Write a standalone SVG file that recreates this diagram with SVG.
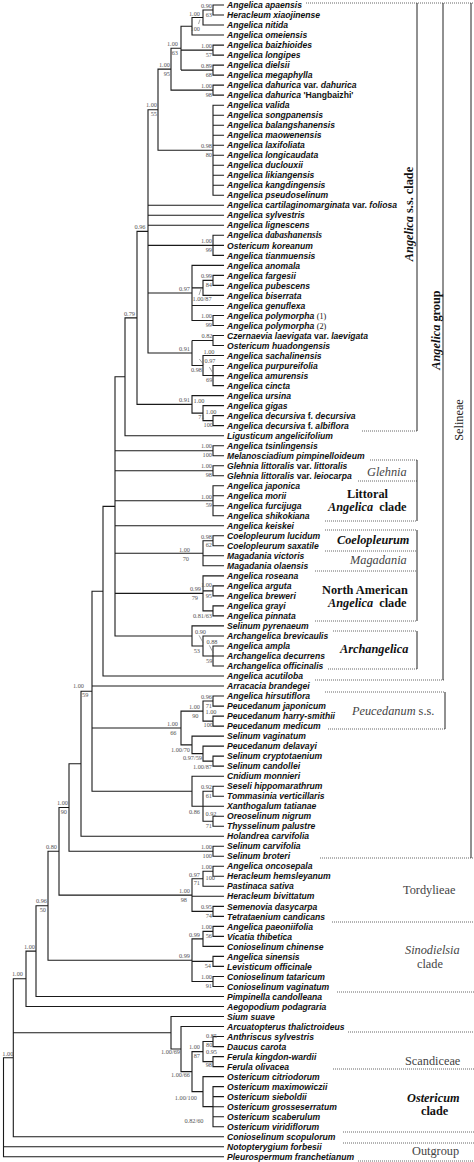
<svg xmlns="http://www.w3.org/2000/svg" width="474" height="1162" viewBox="0 0 474 1162">
<style>
.t{font-family:"Liberation Sans",Arial,sans-serif;font-style:italic;font-weight:bold;font-size:8.6px;fill:#111}
.n{font-style:normal}
.sv{font-family:"Liberation Serif","Times New Roman",serif;font-style:normal;font-weight:normal}
.svi{font-family:"Liberation Serif","Times New Roman",serif;font-style:italic;font-weight:bold}
.s{font-family:"Liberation Serif","Times New Roman",serif;font-size:6.3px;fill:#555}
.e{text-anchor:end}
.br{fill:none;stroke:#1a1a1a;stroke-width:1.1}
.ld{fill:none;stroke:#666;stroke-width:0.6}
.dot{fill:none;stroke:#555;stroke-width:0.9;stroke-dasharray:1 1}
.bar{fill:none;stroke:#222;stroke-width:1}
.cl{font-family:"Liberation Serif","Times New Roman",serif;font-size:12.3px}
.b{font-weight:bold;fill:#111}
.i{font-style:italic}
.g{fill:#444}
</style>
<rect width="474" height="1162" fill="#fff"/>
<g id="connectors" class="br">
<path d="M224 5H213V15H224 M213 10H203V25H224 M203 17.5H192V35H224 M192 26.25H181V70.1 M224 45.1H213V55.1H224 M181 50.1H213 M224 65.1H213V75.1H224 M181 70.1H213 M181 48.2H171V90.1H213 M224 85.1H213V95.1H224 M171 69.15H158V150.25H213"/>
<path d="M224 105.2H213V195.3H224 M213 115.2H224 M213 125.2H224 M213 135.2H224 M213 145.2H224 M213 155.2H224 M213 165.2H224 M213 175.3H224 M213 185.3H224"/>
<path d="M158 109.7H148V353H192 M148 205.3H224 M148 215.3H224 M148 225.3H224 M148 245.35H213 M148 292.95H192 M224 235.3H213V255.4H224 M213 245.4H224 M224 265.4H192V320.5H213 M192 287.9H203 M192 305.5H224 M224 275.4H213V285.4H224 M213 280.4H203V295.4H224 M224 315.5H213V325.5H224 M192 340.5V365.5H203 M192 340.5H213 M224 335.5H213V345.5H224 M224 355.5H203V375.55H213 M224 365.5H213V385.6H224 M213 375.6H224"/>
<path d="M148 231.35H137V404.35H192 M224 395.6H192V413.1H203 M224 405.6H203V420.6H213 M224 415.6H213V425.6H224 M137 317.85H125V435.7H224"/>
<path d="M125 376.8H115V635.95H192 M115 450.7H213 M115 470.7H213 M115 500.75H213 M115 525.8H224 M115 553.3H203 M115 593.4H203 M224 445.7H213V455.7H224 M224 465.7H213V475.7H224 M224 485.7H213V515.8H224 M213 495.7H224 M213 505.8H224 M224 535.8H213V545.8H224 M213 540.8H203V565.8H224 M203 555.8H224 M224 575.9H203V610.9H213 M203 590.9H213 M224 585.9H213V595.9H224 M224 605.9H213V615.9H224 M224 625.9H192V646H203 M224 636H203V656H213 M224 646H213V666H224 M213 656H224"/>
<path d="M115 506.4H103V676H224 M103 591.2H92V791.2H192 M92 686H224 M92 727.97H181 M203 711.08H181V744.85H192 M213 701.05H203V721.1H213 M224 696H213V706.1H224 M224 716.1H213V726.1H224 M224 736.1H192V753.6H203 M224 746.1H203V761.1H213 M224 756.1H213V766.1H224 M224 776.2H192V806.2H203 M213 791.2H203V821.2H213 M203 806.2H224 M224 786.2H213V796.2H224 M224 816.2H213V826.2H224"/>
<path d="M92 691.2H81V836.2H224 M81 763.7H69V851.3H213 M224 846.3H213V856.3H224 M69 807.5H59V895.1H192 M203 878.8H192V911.4H213 M192 896.3H224 M213 871.3H203V886.3H224 M224 866.3H213V876.3H224 M224 906.4H213V916.4H224"/>
<path d="M59 851.3H48V960.2H192 M203 938.9H192V981.5H213 M192 961.4H213 M213 931.4H203V946.4H224 M224 926.4H213V936.4H224 M224 956.4H213V966.4H224 M224 976.5H213V986.5H224 M48 905.75H36V996.5H224 M36 951.1H26V1006.5H224"/>
<path d="M26 978.8H13.3V1136.7H224 M13.3 1032.8H171 M224 1016.5H171V1049.05H181 M224 1026.5H181V1071.6H192 M203 1051.6H192V1091.6H203 M213 1041.55H203V1061.6H213 M224 1036.5H213V1046.6H224 M224 1056.6H213V1066.6H224 M224 1076.6H203V1106.65H213 M224 1086.6H213V1126.7H224 M213 1096.6H224 M213 1106.7H224 M213 1116.7H224 M13.3 1057.75H3.5V1156.7H224 M3.5 1146.7H224"/>
</g>
<g id="leaders" class="ld">
<path d="M198.5 24L200 19.5 M199 295L201 289 M199.3 359L204 365 M209.3 367L213.3 373.7 M199 635.3L203.3 643 M209.3 645.3L213.3 653"/>
</g>
<g id="support" class="s">
<text x="212" y="7.7" class="e">0.90</text><text x="212" y="16.6" class="e">63</text>
<text x="200" y="15.8" class="e">1.00</text><text x="200" y="30.8" class="e">100</text>
<text x="178" y="45.9" class="e">1.00</text><text x="178" y="54.8" class="e">63</text>
<text x="212" y="47.8" class="e">1.00</text><text x="212" y="56.7" class="e">57</text>
<text x="212" y="67.8" class="e">0.89</text><text x="212" y="76.7" class="e">68</text>
<text x="170" y="66.9" class="e">1.00</text><text x="170" y="75.8" class="e">95</text>
<text x="212" y="87.8" class="e">1.00</text><text x="212" y="96.7" class="e">98</text>
<text x="157" y="107.4" class="e">1.00</text><text x="157" y="116.3" class="e">55</text>
<text x="212" y="148" class="e">0.98</text><text x="212" y="156.9" class="e">80</text>
<text x="145.5" y="229" class="e">0.96</text>
<text x="212" y="243" class="e">1.00</text><text x="212" y="252" class="e">99</text>
<text x="212" y="278.1" class="e">0.99</text><text x="212" y="287" class="e">84</text>
<text x="190" y="290.6" class="e">0.97</text>
<text x="192.5" y="300.8">1.00/87</text>
<text x="212" y="318.2" class="e">1.00</text><text x="212" y="327.1" class="e">99</text>
<text x="212.5" y="338.2" class="e">0.82</text>
<text x="190" y="350.7" class="e">0.91</text>
<text x="203.5" y="354.4">1.00</text>
<text x="204.5" y="363.4">0.97</text>
<text x="202" y="372.4" class="e">0.98</text>
<text x="206" y="381.6">69</text>
<text x="190" y="402" class="e">0.91</text>
<text x="193.5" y="403.3">1.00</text><text x="204.5" y="419" class="e">71</text>
<text x="205.5" y="414">1.00</text><text x="213" y="427" class="e">100</text>
<text x="135" y="316" class="e">0.79</text>
<text x="212" y="448.4" class="e">1.00</text><text x="212" y="457.3" class="e">100</text>
<text x="212" y="468.4" class="e">1.00</text><text x="212" y="477.3" class="e">98</text>
<text x="212" y="498.5" class="e">1.00</text><text x="212" y="507.4" class="e">59</text>
<text x="212" y="538.5" class="e">0.98</text><text x="212" y="547.4" class="e">62</text>
<text x="190" y="551.5" class="e">1.00</text><text x="189" y="561" class="e">70</text>
<text x="212" y="586.5" class="e">1.00</text><text x="212" y="597.5" class="e">95</text>
<text x="201" y="591.1" class="e">0.99</text><text x="198" y="600" class="e">79</text>
<text x="212" y="617.5" class="e">0.81/63</text>
<text x="195" y="634">0.90</text><text x="200" y="653.3" class="e">53</text>
<text x="206.5" y="643.5">0.88</text><text x="206" y="663">59</text>
<text x="84" y="688" class="e">1.00</text><text x="82" y="697.2">59</text>
<text x="212" y="698.7" class="e">0.96</text><text x="212" y="707.6" class="e">71</text>
<text x="205.5" y="713.8">1.00</text><text x="213" y="727.3" class="e">100</text>
<text x="200" y="708.8" class="e">1.00</text><text x="198.5" y="717.7" class="e">90</text>
<text x="178" y="725.7" class="e">1.00</text><text x="176.5" y="734.6" class="e">66</text>
<text x="190" y="751.5" class="e">1.00/70</text>
<text x="202" y="759.8" class="e">0.97/59</text>
<text x="212" y="768.7" class="e">1.00/87</text>
<text x="212" y="788.9" class="e">0.92</text><text x="212" y="797.8" class="e">61</text>
<text x="200" y="813.5" class="e">0.86</text>
<text x="205.5" y="815.5">0.92</text><text x="212" y="828" class="e">71</text>
<text x="68" y="805.2" class="e">1.00</text><text x="67" y="814.1" class="e">90</text>
<text x="212" y="849" class="e">1.00</text><text x="212" y="857.9" class="e">100</text>
<text x="57" y="849" class="e">0.80</text>
<text x="212" y="869" class="e">1.00</text><text x="205.5" y="880.2">100</text>
<text x="200" y="876.5" class="e">0.97</text><text x="200" y="885" class="e">71</text>
<text x="190" y="892.8" class="e">1.00</text><text x="187" y="901.7" class="e">98</text>
<text x="212" y="909.1" class="e">0.95</text><text x="212" y="918" class="e">74</text>
<text x="47" y="903.4" class="e">0.96</text><text x="46" y="912.3" class="e">50</text>
<text x="212" y="928.8" class="e">1.00</text><text x="212" y="938" class="e">56</text>
<text x="200" y="936.6" class="e">0.99</text>
<text x="190" y="957.9" class="e">0.99</text>
<text x="211" y="968" class="e">54</text>
<text x="212" y="979.2" class="e">1.00</text><text x="212" y="988.1" class="e">91</text>
<text x="35" y="948.8" class="e">1.00</text>
<text x="23" y="976.3" class="e">1.00</text>
<text x="13.3" y="1055.5" class="e">1.00</text>
<text x="206" y="1037.7">0.85</text><text x="206" y="1046.5">80</text>
<text x="206" y="1053.8">0.95</text><text x="212" y="1066.7" class="e">98</text>
<text x="200" y="1049.3" class="e">1.00</text><text x="200" y="1058.2" class="e">87</text>
<text x="180" y="1053.7" class="e">1.00/69</text>
<text x="190" y="1076.6" class="e">1.00/66</text>
<text x="197" y="1099.5" class="e">1.00/100</text>
<text x="203.5" y="1122.5" class="e">0.82/60</text>
</g>
<g id="leaf-1"><text class="t" x="227" y="8.1">Angelica apaensis</text></g>
<g id="leaf-2"><text class="t" x="227" y="18.1">Heracleum xiaojinense</text></g>
<g id="leaf-3"><text class="t" x="227" y="28.1">Angelica nitida</text></g>
<g id="leaf-4"><text class="t" x="227" y="38.1">Angelica omeiensis</text></g>
<g id="leaf-5"><text class="t" x="227" y="48.2">Angelica baizhioides</text></g>
<g id="leaf-6"><text class="t" x="227" y="58.2">Angelica longipes</text></g>
<g id="leaf-7"><text class="t" x="227" y="68.2">Angelica dielsii</text></g>
<g id="leaf-8"><text class="t" x="227" y="78.2">Angelica megaphylla</text></g>
<g id="leaf-9"><text class="t" x="227" y="88.2">Angelica dahurica <tspan class="n">var.</tspan> dahurica</text></g>
<g id="leaf-10"><text class="t" x="227" y="98.2">Angelica dahurica <tspan class="n">'Hangbaizhi'</tspan></text></g>
<g id="leaf-11"><text class="t" x="227" y="108.3">Angelica valida</text></g>
<g id="leaf-12"><text class="t" x="227" y="118.3">Angelica songpanensis</text></g>
<g id="leaf-13"><text class="t" x="227" y="128.3">Angelica balangshanensis</text></g>
<g id="leaf-14"><text class="t" x="227" y="138.3">Angelica maowenensis</text></g>
<g id="leaf-15"><text class="t" x="227" y="148.3">Angelica laxifoliata</text></g>
<g id="leaf-16"><text class="t" x="227" y="158.3">Angelica longicaudata</text></g>
<g id="leaf-17"><text class="t" x="227" y="168.3">Angelica duclouxii</text></g>
<g id="leaf-18"><text class="t" x="227" y="178.4">Angelica likiangensis</text></g>
<g id="leaf-19"><text class="t" x="227" y="188.4">Angelica kangdingensis</text></g>
<g id="leaf-20"><text class="t" x="227" y="198.4">Angelica pseudoselinum</text></g>
<g id="leaf-21"><text class="t" x="227" y="208.4">Angelica cartilaginomarginata <tspan class="n">var.</tspan> foliosa</text></g>
<g id="leaf-22"><text class="t" x="227" y="218.4">Angelica sylvestris</text></g>
<g id="leaf-23"><text class="t" x="227" y="228.4">Angelica lignescens</text></g>
<g id="leaf-24"><text class="t" x="227" y="238.4">Angelica <tspan class="svi" font-size="9.4">dabashanensis</tspan></text></g>
<g id="leaf-25"><text class="t" x="227" y="248.5">Ostericum koreanum</text></g>
<g id="leaf-26"><text class="t" x="227" y="258.5">Angelica tianmuensis</text></g>
<g id="leaf-27"><text class="t" x="227" y="268.5">Angelica anomala</text></g>
<g id="leaf-28"><text class="t" x="227" y="278.5">Angelica fargesii</text></g>
<g id="leaf-29"><text class="t" x="227" y="288.5">Angelica pubescens</text></g>
<g id="leaf-30"><text class="t" x="227" y="298.5">Angelica biserrata</text></g>
<g id="leaf-31"><text class="t" x="227" y="308.6">Angelica genuflexa</text></g>
<g id="leaf-32"><text class="t" x="227" y="318.6">Angelica polymorpha <tspan class="sv" font-size="8.2">(1)</tspan></text></g>
<g id="leaf-33"><text class="t" x="227" y="328.6">Angelica polymorpha <tspan class="sv" font-size="8.2">(2)</tspan></text></g>
<g id="leaf-34"><text class="t" x="227" y="338.6">Czernaevia laevigata <tspan class="n">var.</tspan> laevigata</text></g>
<g id="leaf-35"><text class="t" x="227" y="348.6">Ostericum huadongensis</text></g>
<g id="leaf-36"><text class="t" x="227" y="358.6">Angelica sachalinensis</text></g>
<g id="leaf-37"><text class="t" x="227" y="368.6">Angelica purpureifolia</text></g>
<g id="leaf-38"><text class="t" x="227" y="378.7">Angelica amurensis</text></g>
<g id="leaf-39"><text class="t" x="227" y="388.7">Angelica cincta</text></g>
<g id="leaf-40"><text class="t" x="227" y="398.7">Angelica ursina</text></g>
<g id="leaf-41"><text class="t" x="227" y="408.7">Angelica gigas</text></g>
<g id="leaf-42"><text class="t" x="227" y="418.7">Angelica decursiva <tspan class="n">f.</tspan> decursiva</text></g>
<g id="leaf-43"><text class="t" x="227" y="428.7">Angelica decursiva <tspan class="n">f.</tspan> albiflora</text></g>
<g id="leaf-44"><text class="t" x="227" y="438.8">Ligusticum angelicifolium</text></g>
<g id="leaf-45"><text class="t" x="227" y="448.8">Angelica tsinlingensis</text></g>
<g id="leaf-46"><text class="t" x="227" y="458.8">Melanosciadium pimpinelloideum</text></g>
<g id="leaf-47"><text class="t" x="227" y="468.8">Glehnia littoralis <tspan class="n">var.</tspan> littoralis</text></g>
<g id="leaf-48"><text class="t" x="227" y="478.8">Glehnia littoralis <tspan class="n">var.</tspan> leiocarpa</text></g>
<g id="leaf-49"><text class="t" x="227" y="488.8">Angelica japonica</text></g>
<g id="leaf-50"><text class="t" x="227" y="498.8">Angelica morii</text></g>
<g id="leaf-51"><text class="t" x="227" y="508.9">Angelica furcijuga</text></g>
<g id="leaf-52"><text class="t" x="227" y="518.9">Angelica shikokiana</text></g>
<g id="leaf-53"><text class="t" x="227" y="528.9">Angelica keiskei</text></g>
<g id="leaf-54"><text class="t" x="227" y="538.9">Coelopleurum lucidum</text></g>
<g id="leaf-55"><text class="t" x="227" y="548.9">Coelopleurum saxatile</text></g>
<g id="leaf-56"><text class="t" x="227" y="558.9">Magadania victoris</text></g>
<g id="leaf-57"><text class="t" x="227" y="568.9">Magadania olaensis</text></g>
<g id="leaf-58"><text class="t" x="227" y="579">Angelica roseana</text></g>
<g id="leaf-59"><text class="t" x="227" y="589">Angelica arguta</text></g>
<g id="leaf-60"><text class="t" x="227" y="599">Angelica breweri</text></g>
<g id="leaf-61"><text class="t" x="227" y="609">Angelica grayi</text></g>
<g id="leaf-62"><text class="t" x="227" y="619">Angelica pinnata</text></g>
<g id="leaf-63"><text class="t" x="227" y="629">Selinum pyrenaeum</text></g>
<g id="leaf-64"><text class="t" x="227" y="639.1">Archangelica brevicaulis</text></g>
<g id="leaf-65"><text class="t" x="227" y="649.1">Angelica ampla</text></g>
<g id="leaf-66"><text class="t" x="227" y="659.1">Archangelica decurrens</text></g>
<g id="leaf-67"><text class="t" x="227" y="669.1">Archangelica officinalis</text></g>
<g id="leaf-68"><text class="t" x="227" y="679.1">Angelica acutiloba</text></g>
<g id="leaf-69"><text class="t" x="227" y="689.1">Arracacia brandegei</text></g>
<g id="leaf-70"><text class="t" x="227" y="699.1">Angelica hirsutiflora</text></g>
<g id="leaf-71"><text class="t" x="227" y="709.2">Peucedanum japonicum</text></g>
<g id="leaf-72"><text class="t" x="227" y="719.2">Peucedanum harry-smithii</text></g>
<g id="leaf-73"><text class="t" x="227" y="729.2">Peucedanum medicum</text></g>
<g id="leaf-74"><text class="t" x="227" y="739.2">Selinum vaginatum</text></g>
<g id="leaf-75"><text class="t" x="227" y="749.2">Peucedanum delavayi</text></g>
<g id="leaf-76"><text class="t" x="227" y="759.2">Selinum cryptotaenium</text></g>
<g id="leaf-77"><text class="t" x="227" y="769.2">Selinum candollei</text></g>
<g id="leaf-78"><text class="t" x="227" y="779.3">Cnidium monnieri</text></g>
<g id="leaf-79"><text class="t" x="227" y="789.3">Seseli hippomarathrum</text></g>
<g id="leaf-80"><text class="t" x="227" y="799.3">Tommasinia verticillaris</text></g>
<g id="leaf-81"><text class="t" x="227" y="809.3">Xanthogalum tatianae</text></g>
<g id="leaf-82"><text class="t" x="227" y="819.3">Oreoselinum nigrum</text></g>
<g id="leaf-83"><text class="t" x="227" y="829.3">Thysselinum palustre</text></g>
<g id="leaf-84"><text class="t" x="227" y="839.3">Holandrea carvifolia</text></g>
<g id="leaf-85"><text class="t" x="227" y="849.4">Selinum carvifolia</text></g>
<g id="leaf-86"><text class="t" x="227" y="859.4">Selinum broteri</text></g>
<g id="leaf-87"><text class="t" x="227" y="869.4">Angelica oncosepala</text></g>
<g id="leaf-88"><text class="t" x="227" y="879.4">Heracleum hemsleyanum</text></g>
<g id="leaf-89"><text class="t" x="227" y="889.4">Pastinaca sativa</text></g>
<g id="leaf-90"><text class="t" x="227" y="899.4">Heracleum bivittatum</text></g>
<g id="leaf-91"><text class="t" x="227" y="909.5">Semenovia dasycarpa</text></g>
<g id="leaf-92"><text class="t" x="227" y="919.5">Tetrataenium candicans</text></g>
<g id="leaf-93"><text class="t" x="227" y="929.5">Angelica paeoniifolia</text></g>
<g id="leaf-94"><text class="t" x="227" y="939.5">Vicatia thibetica</text></g>
<g id="leaf-95"><text class="t" x="227" y="949.5">Conioselinum chinense</text></g>
<g id="leaf-96"><text class="t" x="227" y="959.5">Angelica sinensis</text></g>
<g id="leaf-97"><text class="t" x="227" y="969.5">Levisticum officinale</text></g>
<g id="leaf-98"><text class="t" x="227" y="979.6">Conioselinum tataricum</text></g>
<g id="leaf-99"><text class="t" x="227" y="989.6">Conioselinum vaginatum</text></g>
<g id="leaf-100"><text class="t" x="227" y="999.6">Pimpinella candolleana</text></g>
<g id="leaf-101"><text class="t" x="227" y="1009.6">Aegopodium podagraria</text></g>
<g id="leaf-102"><text class="t" x="227" y="1019.6">Sium suave</text></g>
<g id="leaf-103"><text class="t" x="227" y="1029.6">Arcuatopterus thalictroideus</text></g>
<g id="leaf-104"><text class="t" x="227" y="1039.6">Anthriscus sylvestris</text></g>
<g id="leaf-105"><text class="t" x="227" y="1049.7">Daucus carota</text></g>
<g id="leaf-106"><text class="t" x="227" y="1059.7">Ferula kingdon-wardii</text></g>
<g id="leaf-107"><text class="t" x="227" y="1069.7">Ferula olivacea</text></g>
<g id="leaf-108"><text class="t" x="227" y="1079.7">Ostericum citriodorum</text></g>
<g id="leaf-109"><text class="t" x="227" y="1089.7">Ostericum maximowiczii</text></g>
<g id="leaf-110"><text class="t" x="227" y="1099.7">Ostericum sieboldii</text></g>
<g id="leaf-111"><text class="t" x="227" y="1109.8">Ostericum grosseserratum</text></g>
<g id="leaf-112"><text class="t" x="227" y="1119.8">Ostericum scaberulum</text></g>
<g id="leaf-113"><text class="t" x="227" y="1129.8">Ostericum viridiflorum</text></g>
<g id="leaf-114"><text class="t" x="227" y="1139.8">Conioselinum scopulorum</text></g>
<g id="leaf-115"><text class="t" x="227" y="1149.8">Notopterygium forbesii</text></g>
<g id="leaf-116"><text class="t" x="227" y="1159.8">Pleurospermum franchetianum</text></g>
<g id="clade-bounds">
<path class="dot" d="M306 3H474 M362 431H417 M370 460H417 M358 481H417 M325 521H417 M325 530H417 M325 551H417 M315 571H417 M315 621H417 M333 631H417 M328 669H417 M315 680H445 M325 692H445 M328 729H445 M320 858H474 M332 922H474 M337 992H474 M348 1032H474 M333 1069H474 M343 1132H474 M343 1143H474 M358 1161H474"/>
<path class="bar" d="M417 3V431 M417 460V481 M417 481V521 M417 530V551 M417 551V571 M417 571V621 M417 631V669 M443 3V680 M445 692V729 M471 3V858"/>
</g>
<g id="clade-angelica-ss"><text class="cl b" font-size="13" transform="translate(413,214) rotate(-90)" text-anchor="middle"><tspan class="i">Angelica</tspan>  s.s.  clade</text></g>
<g id="clade-angelica-group"><text class="cl b" font-size="13" transform="translate(439.5,330) rotate(-90)" text-anchor="middle"><tspan class="i">Angelica</tspan>  group</text></g>
<g id="clade-selineae"><text class="cl" fill="#222" font-size="12" transform="translate(463,420) rotate(-90)" text-anchor="middle">Selineae</text></g>
<g id="clade-glehnia"><text class="cl i g" font-size="12.5" x="367" y="475.5">Glehnia</text></g>
<g id="clade-littoral"><text class="cl b" x="347" y="497.8">Littoral</text><text class="cl b" x="328" y="511" xml:space="preserve"><tspan class="i">Angelica</tspan>  clade</text></g>
<g id="clade-coelopleurum"><text class="cl b i" x="337" y="544">Coelopleurum</text></g>
<g id="clade-magadania"><text class="cl i g" font-size="12.6" x="350" y="564">Magadania</text></g>
<g id="clade-north-american"><text class="cl b" x="322" y="593.5">North American</text><text class="cl b" x="328" y="607" xml:space="preserve"><tspan class="i">Angelica</tspan>  clade</text></g>
<g id="clade-archangelica"><text class="cl b i" x="340" y="653">Archangelica</text></g>
<g id="clade-peucedanum"><text class="cl g" font-size="12.7" x="352" y="715"><tspan class="i">Peucedanum</tspan> s.s.</text></g>
<g id="clade-tordylieae"><text class="cl g" font-size="12" x="403" y="894">Tordylieae</text></g>
<g id="clade-sinodielsia"><text class="cl g i" font-size="12.4" x="405" y="954">Sinodielsia</text><text class="cl g" font-size="12.5" x="417" y="968">clade</text></g>
<g id="clade-scandiceae"><text class="cl g" font-size="12.2" x="405" y="1065">Scandiceae</text></g>
<g id="clade-ostericum"><text class="cl b i" x="407" y="1102">Ostericum</text><text class="cl b" x="421" y="1115">clade</text></g>
<g id="clade-outgroup"><text class="cl g" font-size="12" x="412" y="1155">Outgroup</text></g>
</svg>
